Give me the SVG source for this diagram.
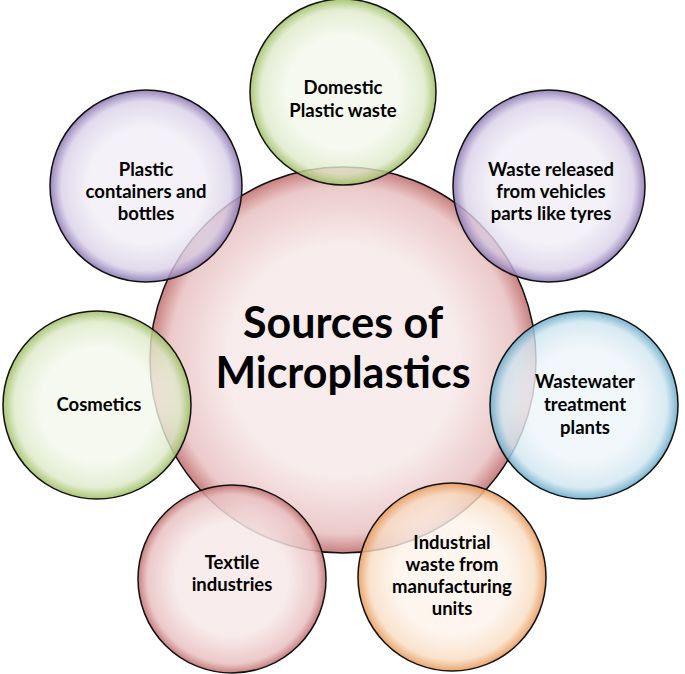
<svg xmlns="http://www.w3.org/2000/svg" width="685" height="674" viewBox="0 0 685 674">
<style>
.c{stroke:#111;stroke-width:1.5}
.t{font-family:Lato,"Open Sans","Liberation Sans",sans-serif;font-weight:bold;font-size:18.5px;fill:#000;text-anchor:middle}
.big{font-size:43px}
</style>
<defs>
<radialGradient id="gr" cx="0.5" cy="0.5" r="0.5"><stop offset="0.6" stop-color="#f7e8e8" stop-opacity="0.85"/><stop offset="0.9" stop-color="#e8c0c0" stop-opacity="0.85"/><stop offset="1" stop-color="#c27070" stop-opacity="0.9"/></radialGradient>
<radialGradient id="gg" cx="0.5" cy="0.5" r="0.5"><stop offset="0.6" stop-color="#f4f8ec" stop-opacity="0.8"/><stop offset="0.88" stop-color="#dde9c8" stop-opacity="0.8"/><stop offset="1" stop-color="#9fbf63" stop-opacity="0.9"/></radialGradient>
<radialGradient id="gp" cx="0.5" cy="0.5" r="0.5"><stop offset="0.6" stop-color="#f1eef6" stop-opacity="0.8"/><stop offset="0.88" stop-color="#d9d0e8" stop-opacity="0.8"/><stop offset="1" stop-color="#8c78b3" stop-opacity="0.9"/></radialGradient>
<radialGradient id="gb" cx="0.5" cy="0.5" r="0.5"><stop offset="0.6" stop-color="#edf5f9" stop-opacity="0.8"/><stop offset="0.88" stop-color="#cfe5ef" stop-opacity="0.8"/><stop offset="1" stop-color="#6aaccb" stop-opacity="0.9"/></radialGradient>
<radialGradient id="go" cx="0.5" cy="0.5" r="0.5"><stop offset="0.6" stop-color="#fdf3ea" stop-opacity="0.8"/><stop offset="0.88" stop-color="#f8dcc2" stop-opacity="0.8"/><stop offset="1" stop-color="#e99a5a" stop-opacity="0.9"/></radialGradient>
</defs>
<g id="center"><circle class="c" cx="343" cy="360" r="193" fill="url(#gr)"/>
<text class="t big" x="343" y="338">Sources of</text><text class="t big" x="343" y="388">Microplastics</text></g>
<g id="domestic"><circle class="c" cx="343" cy="92" r="93" fill="url(#gg)"/>
<text class="t" x="343" y="94">Domestic</text><text class="t" x="343" y="117">Plastic waste</text></g>
<g id="containers"><circle class="c" cx="146" cy="186" r="96" fill="url(#gp)"/>
<text class="t" x="146" y="176">Plastic</text><text class="t" x="146" y="198">containers and</text><text class="t" x="146" y="220">bottles</text></g>
<g id="vehicles"><circle class="c" cx="549" cy="186" r="96" fill="url(#gp)"/>
<text class="t" x="551" y="176">Waste released</text><text class="t" x="551" y="198">from vehicles</text><text class="t" x="551" y="220">parts like tyres</text></g>
<g id="cosmetics"><circle class="c" cx="97" cy="405" r="94" fill="url(#gg)"/>
<text class="t" x="99" y="411">Cosmetics</text></g>
<g id="wastewater"><circle class="c" cx="584" cy="405" r="94" fill="url(#gb)"/>
<text class="t" x="585" y="388">Wastewater</text><text class="t" x="585" y="411">treatment</text><text class="t" x="585" y="434">plants</text></g>
<g id="textile"><circle class="c" cx="232" cy="579" r="94" fill="url(#gr)"/>
<text class="t" x="232" y="569">Textile</text><text class="t" x="232" y="591">industries</text></g>
<g id="industrial"><circle class="c" cx="452" cy="577" r="94" fill="url(#go)"/>
<text class="t" x="452" y="549">Industrial</text><text class="t" x="452" y="571">waste from</text><text class="t" x="452" y="593">manufacturing</text><text class="t" x="452" y="615">units</text></g>
<g id="connectors"/>
</svg>
